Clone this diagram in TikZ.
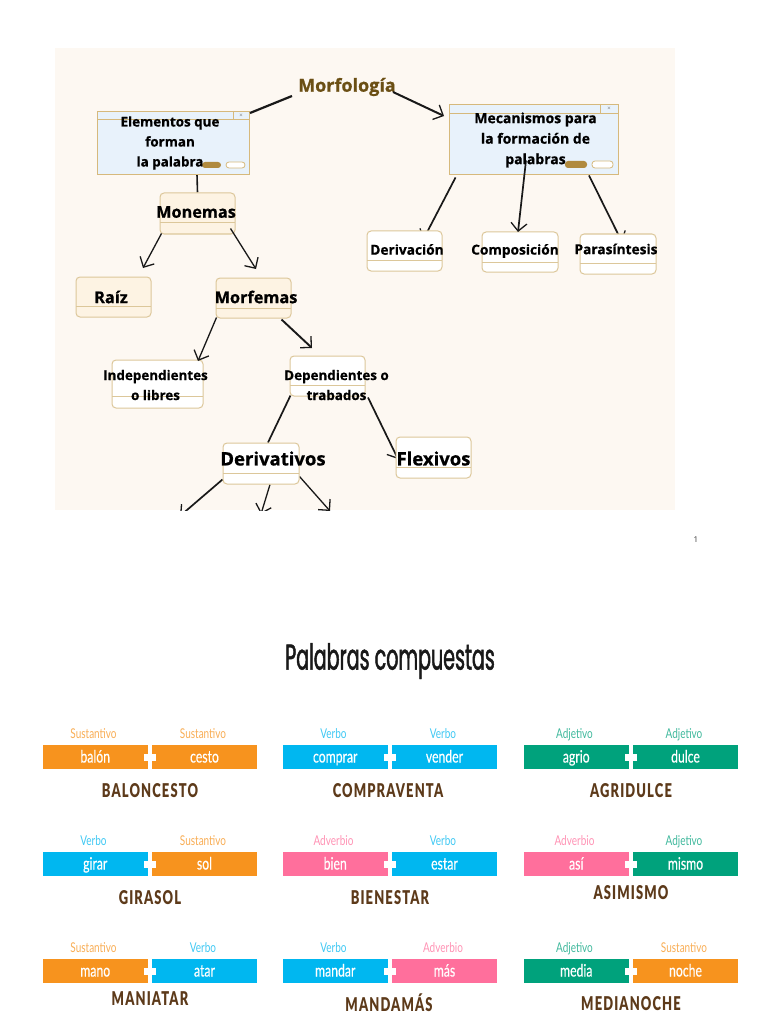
\documentclass[tikz,border=0pt]{standalone}
\usepackage{fontspec}
\usetikzlibrary{arrows.meta,calc}
\setmainfont{Open Sans}
\newfontfamily\mapfont[BoldFeatures={FakeBold=0.7}]{Open Sans}
\newfontfamily\titlefont[FakeStretch=0.53,FakeBold=1.3]{Poppins}
\newfontfamily\barfont[FakeStretch=0.72,FakeBold=0.3]{Lato}
\newfontfamily\labfont[FakeStretch=0.74]{Lato}
\newfontfamily\compfont[FakeStretch=0.68,LetterSpace=6]{Lato Black}
\definecolor{panelbg}{HTML}{FDF8F2}
\definecolor{cardtan}{HTML}{DCC79A}
\definecolor{windowtan}{HTML}{D6B97C}
\definecolor{windowblue}{HTML}{E8F2FB}
\definecolor{cream}{HTML}{FDF3E3}
\definecolor{pill}{HTML}{B08A3E}
\definecolor{morfbrown}{HTML}{6B4F14}
\definecolor{orangeb}{HTML}{F7931E}
\definecolor{blueb}{HTML}{00B7F0}
\definecolor{greenb}{HTML}{00A27C}
\definecolor{pinkb}{HTML}{FF6F9C}
\definecolor{wordbrown}{HTML}{5D3A1A}
\pgfdeclarelayer{panel}
\pgfdeclarelayer{conn}
\pgfsetlayers{panel,conn,main}
\tikzset{
  x=1pt,y=-1pt,
  card/.style={draw=cardtan,line width=1pt,rounded corners=4pt,inner sep=0pt,fill=white},
  window/.style={draw=windowtan,line width=0.9pt,fill=windowblue,inner sep=0pt},
  cardline/.style={draw=cardtan,line width=1pt},
  winline/.style={draw=windowtan,line width=0.9pt},
  txt/.style={inner sep=0pt,align=center,text=black,font=\mapfont\bfseries\fontsize{13.4}{20}\selectfont},
  big/.style={inner sep=0pt,text=black,font=\mapfont\bfseries\fontsize{16.3}{20}\selectfont},
  bigger/.style={inner sep=0pt,text=black,font=\mapfont\bfseries\fontsize{18.5}{20}\selectfont},
  mid/.style={inner sep=0pt,text=black,font=\mapfont\bfseries\fontsize{13.7}{20}\selectfont},
  con/.style={draw=black!90,line width=1.7pt,-{Straight Barb[length=8pt,width=16pt,line width=1.3pt]}},
  plain/.style={draw=black!90,line width=2.2pt},
  barl/.style={inner sep=0pt,minimum width=105.5pt,minimum height=24pt,text=white,text height=15pt,text depth=4pt,font=\barfont\fontsize{17}{20}\selectfont},
  lab/.style={inner sep=0pt,text height=10pt,text depth=3pt,font=\labfont\fontsize{13.5}{16}\selectfont},
  compound/.style={inner sep=0pt,text=wordbrown,text height=14pt,text depth=0pt,font=\compfont\fontsize{19}{20}\selectfont},
}
\newcommand{\wordpair}[9]{%
  \begin{scope}[shift={(#2,#3)}]
    \node[barl,fill=#4] (#1L) at (95.25,12) {#8};
    \node[barl,fill=#5] (#1R) at (204.5,12) {#9};
    \node[lab,text=#4!75] (#1a) at (93.5,-10.5) {#6};
    \node[lab,text=#5!75] (#1b) at (203,-10.5) {#7};
    \fill[white] (144,8.5) rectangle (156,15.5);
  \end{scope}}
\begin{document}
\begin{tikzpicture}
\useasboundingbox (0,0) rectangle (768,1024);
\begin{pgfonlayer}{panel}
  \fill[white] (0,0) rectangle (768,1024);
  \fill[panelbg] (55,48) rectangle (675,510);
\end{pgfonlayer}

% windows
\node[window,minimum width=152pt,minimum height=63pt] (elem) at (173,142.5) {};
\draw[winline] (97,119.5) -- (249,119.5);
\draw[winline] (233,111) -- (233,119.5);
\node[inner sep=0pt,font=\mapfont\fontsize{6}{6}\selectfont,text=gray] (elemx) at (241,115.5) {×};
\fill[pill,rounded corners=3pt] (202,162) rectangle (221,168);
\draw[windowtan,fill=white,rounded corners=3pt,line width=.8pt] (226,162) rectangle (245,168);

\node[window,minimum width=169pt,minimum height=70pt] (mec) at (533.5,139) {};
\draw[winline] (449,113) -- (618,113);
\draw[winline] (600,104) -- (600,113);
\node[inner sep=0pt,font=\mapfont\fontsize{6}{6}\selectfont,text=gray] (mecx) at (609,108.5) {×};
\fill[pill,rounded corners=3pt] (565,161) rectangle (587,168);
\draw[windowtan,fill=white,rounded corners=3pt,line width=.8pt] (592,161) rectangle (613,168);

% cards
\node[card,fill=cream,minimum width=75pt,minimum height=41pt] (mon) at (197.5,213.5) {};
\draw[cardline] (160,223) -- (235,223);
\node[card,fill=cream,minimum width=75pt,minimum height=40pt] (raiz) at (113.5,297) {};
\draw[cardline] (76,306) -- (151,306);
\node[card,fill=cream,minimum width=75pt,minimum height=40pt] (morf) at (253.5,298) {};
\draw[cardline] (216,308) -- (291,308);
\node[card,minimum width=91pt,minimum height=48pt] (indep) at (157.5,384) {};
\draw[cardline] (112,396) -- (203,396);
\node[card,minimum width=75pt,minimum height=40pt] (dep) at (327.5,376) {};
\draw[cardline] (290,385) -- (365,385);
\node[card,minimum width=76pt,minimum height=41pt] (deriv) at (261,463.5) {};
\draw[cardline] (223,473) -- (299,473);
\node[card,minimum width=75pt,minimum height=41pt] (flex) at (433.5,457.5) {};
\draw[cardline] (396,467) -- (471,467);
\node[card,minimum width=75pt,minimum height=40pt] (dvn) at (404.5,251) {};
\draw[cardline] (367,260) -- (442,260);
\node[card,minimum width=76pt,minimum height=40pt] (cmp) at (520,252) {};
\draw[cardline] (482,262) -- (558,262);
\node[card,minimum width=76pt,minimum height=40pt] (par) at (618,254) {};
\draw[cardline] (580,263) -- (656,263);

% connector ends
\coordinate (tipraiz) at (143,268);
\coordinate (tipmorf) at (256,269);
\coordinate (tipind) at (198,361);
\coordinate (tipdep) at (312,348);
\coordinate (tipflex) at (398,459);
\coordinate (tipdvn) at (423,240);
\coordinate (tipcmp) at (518,232);
\coordinate (tippar) at (622,242);
\coordinate (tipmec) at (444,116);
\coordinate (tipa) at (180,516);
\coordinate (tipb) at (261,514);
\coordinate (tipc) at (330,511);
\coordinate (topL) at (292,96);
\coordinate (topLb) at (250,113);
\coordinate (topR) at (393,92);

\begin{pgfonlayer}{conn}
  \begin{scope}
    \clip (55,48) rectangle (675,510);
    \draw[con] ($(mec.south west)+(7,3)$) -- (tipdvn);
    \draw[con] ($(mec.south)+(55.5,1)$) -- (tippar);
    \draw[con] ($(dep.south)+(40.5,1)$) -- (tipflex);
    \draw[plain,line width=1.6pt] (mon.north) -- ($(elem.south)+(24,0)$);
    \draw[con] ($(deriv.south west)+(0,-5)$) -- (tipa);
    \draw[con,line width=1.3pt] ($(deriv.south)+(9,0)$) -- (tipb);
    \draw[con,line width=1.3pt] ($(deriv.south east)+(0,-8)$) -- (tipc);
    \draw[plain,line width=1.7pt] ($(dep.south west)+(1,-1)$) -- ($(deriv.north)+(7,0)$);
  \end{scope}
\end{pgfonlayer}
\draw[con,line width=1.3pt] ($(mon.south west)+(2,-1)$) -- (tipraiz);
\draw[con,line width=1.3pt] ($(mon.south east)+(-5,-6)$) -- (tipmorf);
\draw[con,line width=1.3pt] ($(morf.south west)+(1,-1)$) -- (tipind);
\draw[con,line width=1.9pt] ($(morf.south east)+(-10,1)$) -- (tipdep);
\draw[con,line width=1.7pt] ($(mec.south)+(-7.5,-14)$) -- (tipcmp);

% text
\node[inner sep=0pt,text=morfbrown,font=\mapfont\bfseries\fontsize{18}{20}\selectfont] (title) at (347,87) {Morfología};
\draw[plain] (topL) -- (topLb);
\draw[con,line width=2pt] (topR) -- (tipmec);
\node[txt] (elemt) at (170,143) {Elementos que\\forman\\la palabra};
\node[txt,font=\mapfont\bfseries\fontsize{14}{20.5}\selectfont] (mect) at (535.5,140) {Mecanismos para\\la formación de\\palabras};
\node[big] (mont) at (196,212) {Monemas};
\node[big] (raizt) at (111,297) {Raíz};
\node[big] (morft) at (256,297) {Morfemas};
\node[txt] (indt) at (155.5,385) {Independientes\\o libres};
\node[txt] (dept) at (336.5,385) {Dependientes o\\trabados};
\node[bigger] (dert) at (273,458.5) {Derivativos};
\node[bigger] (flext) at (433.5,458.5) {Flexivos};
\node[mid] (dvnt) at (407,249.5) {Derivación};
\node[mid] (cmpt) at (515,251) {Composición};
\node[mid] (part) at (616,249) {Parasíntesis};
\node[inner sep=0pt,font=\mapfont\fontsize{8}{10}\selectfont,text=black!80] (pg) at (696,540) {1};

% lower half
\node[inner sep=0pt,text=black!90,font=\titlefont\fontsize{36}{40}\selectfont] (pal) at (390,661) {Palabras compuestas};

\wordpair{a1}{0}{745}{orangeb}{orangeb}{Sustantivo}{Sustantivo}{balón}{cesto}
\wordpair{a2}{240}{745}{blueb}{blueb}{Verbo}{Verbo}{comprar}{vender}
\wordpair{a3}{481}{745}{greenb}{greenb}{Adjetivo}{Adjetivo}{agrio}{dulce}
\wordpair{b1}{0}{852}{blueb}{orangeb}{Verbo}{Sustantivo}{girar}{sol}
\wordpair{b2}{240}{852}{pinkb}{blueb}{Adverbio}{Verbo}{bien}{estar}
\wordpair{b3}{481}{852}{pinkb}{greenb}{Adverbio}{Adjetivo}{así}{mismo}
\wordpair{c1}{0}{959}{orangeb}{blueb}{Sustantivo}{Verbo}{mano}{atar}
\wordpair{c2}{240}{959}{blueb}{pinkb}{Verbo}{Adverbio}{mandar}{más}
\wordpair{c3}{481}{959}{greenb}{orangeb}{Adjetivo}{Sustantivo}{media}{noche}

\node[compound] (w1) at (150,790) {BALONCESTO};
\node[compound] (w2) at (388,790) {COMPRAVENTA};
\node[compound] (w3) at (631,790) {AGRIDULCE};
\node[compound] (w4) at (150,897) {GIRASOL};
\node[compound] (w5) at (390,897) {BIENESTAR};
\node[compound] (w6) at (631,892) {ASIMISMO};
\node[compound] (w7) at (150,998) {MANIATAR};
\node[compound] (w8) at (389,1004) {MANDAMÁS};
\node[compound] (w9) at (631,1003) {MEDIANOCHE};
\end{tikzpicture}
\end{document}
